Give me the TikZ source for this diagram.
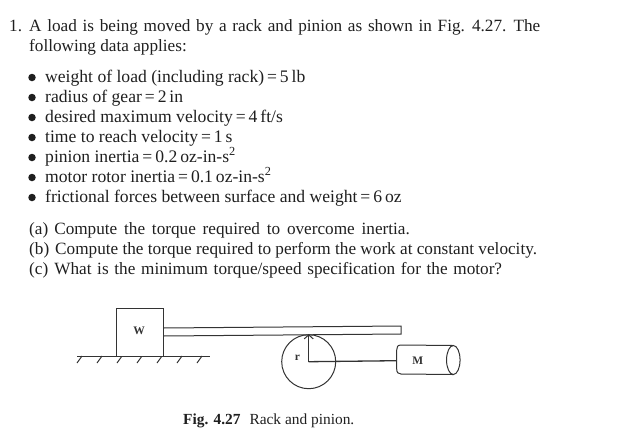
\documentclass[tikz,border=0pt]{standalone}
\usepackage{fontspec}
\setmainfont{Liberation Serif}
\usetikzlibrary{arrows.meta,shapes.geometric}
\tikzset{
  txt/.style={anchor=base west,inner sep=0pt,font=\fontsize{17.2}{19}\selectfont,text=black!88},
  bultxt/.style={anchor=base west,inner sep=0pt,font=\fontsize{17.6}{19}\selectfont,text=black!88},
  captxt/.style={anchor=base west,inner sep=0pt,font=\fontsize{15.4}{17}\selectfont,text=black!88},
  lab/.style={inner sep=0pt,font=\fontsize{11.5}{12}\selectfont\bfseries,text=black!80},
  linestyle/.style={draw=black!80,line width=1pt},
  dotmark/.style={circle,fill=black!88,inner sep=0pt,minimum size=7.5pt}
}
\begin{document}
\begin{tikzpicture}[x=1pt,y=-1pt]
\useasboundingbox (0,0) rectangle (628,437);
\node[txt] (n1) at (9,31) {1.};
\node[txt] (l1) at (29,31) {\spaceskip=5.7pt A load is being moved by a rack and pinion as shown in Fig. 4.27. The};
\node[txt] (l2) at (29,51) {following data applies:};
\foreach \yy/\tt in {82/{weight of load (including rack)\,=\,5\,lb},
  102/{radius of gear\,=\,2\,in},
  122/{desired maximum velocity\,=\,4\,ft/s},
  142/{time to reach velocity\,=\,1\,s},
  162/{pinion inertia\,=\,0.2\,oz-in-s\textsuperscript{2}},
  182/{motor rotor inertia\,=\,0.1\,oz-in-s\textsuperscript{2}},
  202/{frictional forces between surface and weight\,=\,6\,oz}}{
  \node[dotmark] (b\yy) at (32,\yy-4.5) {};
  \node[bultxt] (t\yy) at (45,\yy) {\tt};
}
\node[txt] (pa) at (29,234) {\spaceskip=6.8pt (a)\hspace{6pt}Compute the torque required to overcome inertia.};
\node[txt] (pb) at (29,254) {(b)\hspace{6pt}Compute the torque required to perform the work at constant velocity.};
\node[txt] (pc) at (29,274) {\spaceskip=5.7pt (c)\hspace{6pt}What is the minimum torque/speed specification for the motor?};
% rack
\draw[linestyle] (163,328) -- (401,326) -- (401,334) -- (163,336);
% ground
\coordinate (g1) at (77,356);
\coordinate (g2) at (210,356);
\draw[linestyle] (g1) -- (g2);
\foreach \xx in {77,97,117,137,157,177,197}{
  \draw[linestyle] (\xx+5,356) -- (\xx,363);
}
% load
\node[linestyle,fill=white,minimum width=47pt,minimum height=48pt,inner sep=0pt] (W) at (139.8,332) {};
\node[lab] (wl) at (139,331) {W};
% pinion
\node[linestyle,circle,minimum size=54pt,inner sep=0pt] (gear) at (308.7,361.7) {};
\coordinate (c) at (308.7,361.7);
\node[lab] (r) at (297.5,358) {r};
\draw[linestyle,-{Straight Barb[length=4pt,width=9pt]}] (c) -- (gear.north);
% motor
\coordinate (mr) at (453.3,360);
\draw[linestyle] (453.3,345.5) -- (401,345) .. controls (397.5,345) and (396.7,347) .. (396.7,350)
  -- (396.7,369) .. controls (396.7,372.5) and (398,374) .. (401,374) -- (453.3,374.5);
\node[linestyle,ellipse,minimum width=13.5pt,minimum height=29pt,inner sep=0pt] (end) at (mr) {};
\node[lab] (M) at (417.7,360.5) {M};
\coordinate (ms) at (396.7,360.7);
\draw[linestyle,line width=1.3pt] (c) -- (ms);
\node[captxt] (capt) at (183,424) {\textbf{Fig. 4.27}\hspace{9pt}Rack and pinion.};
\end{tikzpicture}
\end{document}
